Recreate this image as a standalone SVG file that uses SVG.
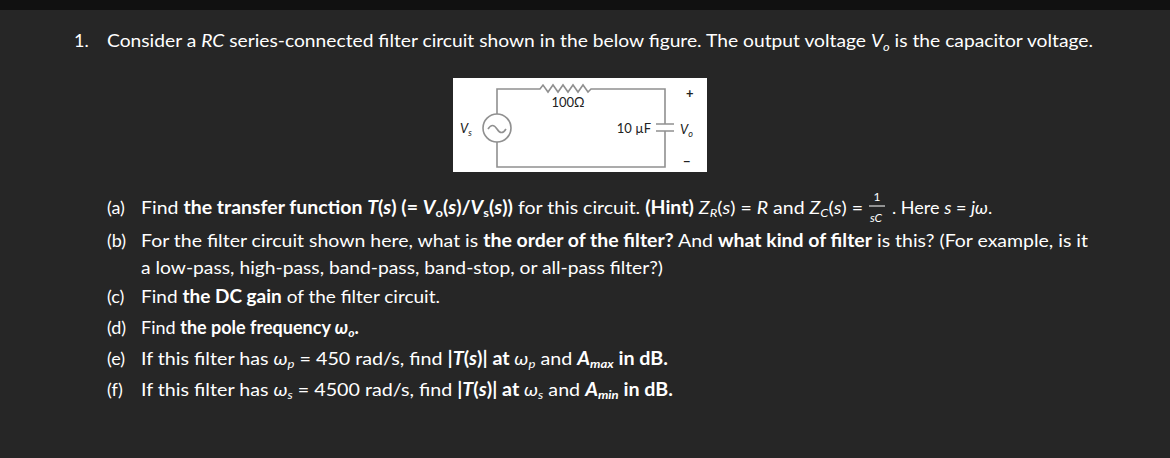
<svg xmlns="http://www.w3.org/2000/svg" width="1170" height="458" viewBox="0 0 1170 458">
<style>
text{font-family:Lato,"Open Sans","Liberation Sans",sans-serif;fill:#ffffff;font-size:18px}
.b{font-weight:bold}.i{font-style:italic}.s{font-size:12px}
.w{stroke:#909090;stroke-width:1.6;fill:none}
.c text{fill:#222;font-size:13px}
</style>
<rect width="1170" height="458" fill="#262626"/>
<rect width="1170" height="10" fill="#111"/>
<g id="question">
<text x="74" y="47">1.</text>
<text x="107" y="47" textLength="986" lengthAdjust="spacingAndGlyphs">Consider a <tspan class="i">RC</tspan> series-connected filter circuit shown in the below figure. The output voltage <tspan class="i">V</tspan><tspan class="s i" dy="4">o</tspan><tspan dy="-4"> is the capacitor voltage.</tspan></text>
</g>
<g id="circuit" class="c">
<rect x="453" y="78" width="254" height="94" fill="#fff"/>
<path class="w" d="M497 114V89H540l3-4 5 7 5-7 5 7 5-7 5 7 5-7 5 7 5-7 5 7 3-3H665V124M656 124H674M656 131H674M665 131V167H497V142"/>
<circle class="w" cx="497" cy="128" r="14"/>
<path class="w" d="M488 129q4.5-7 9 0t9 0"/>
<text x="568" y="107" text-anchor="middle">100Ω</text>
<text x="460" y="133" class="i">V<tspan font-size="9" dy="3">s</tspan></text>
<text x="651" y="133" text-anchor="end">10 µF</text>
<text x="680" y="134" class="i">V<tspan font-size="9" dy="3">o</tspan></text>
<text x="686" y="98" class="b">+</text>
<text x="683" y="166" class="b">−</text>
</g>
<g id="parts">
<text x="107" y="214">(a)</text>
<text x="141" y="214" textLength="722" lengthAdjust="spacingAndGlyphs">Find <tspan class="b">the transfer function <tspan class="i">T</tspan>(<tspan class="i">s</tspan>) (= <tspan class="i">V</tspan><tspan class="s" dy="3">o</tspan><tspan dy="-3">(</tspan><tspan class="i">s</tspan>)/<tspan class="i">V</tspan><tspan class="s" dy="3">s</tspan><tspan dy="-3">(</tspan><tspan class="i">s</tspan>))</tspan> for this circuit. <tspan class="b">(Hint)</tspan> <tspan class="i">Z</tspan><tspan class="s i" dy="3">R</tspan><tspan dy="-3">(</tspan><tspan class="i">s</tspan>) = <tspan class="i">R</tspan> and <tspan class="i">Z</tspan><tspan class="s i" dy="3">C</tspan><tspan dy="-3">(</tspan><tspan class="i">s</tspan>) =</text>
<text x="877" y="201" class="s" text-anchor="middle">1</text>
<line x1="869" y1="206" x2="885" y2="206" stroke="#fff" stroke-width="1"/>
<text x="876" y="222" class="s i" text-anchor="middle">sC</text>
<text x="892" y="214">.  Here <tspan class="i">s</tspan> = <tspan class="i">jω</tspan>.</text>
<text x="107" y="247">(b)</text>
<text x="141" y="247" textLength="947" lengthAdjust="spacingAndGlyphs">For the filter circuit shown here, what is <tspan class="b">the order of the filter?</tspan> And <tspan class="b">what kind of filter</tspan> is this? (For example, is it</text>
<text x="141" y="274" textLength="522" lengthAdjust="spacingAndGlyphs">a low-pass, high-pass, band-pass, band-stop, or all-pass filter?)</text>
<text x="107" y="303">(c)</text>
<text x="141" y="303" textLength="299" lengthAdjust="spacingAndGlyphs">Find <tspan class="b">the DC gain</tspan> of the filter circuit.</text>
<text x="107" y="334">(d)</text>
<text x="141" y="334">Find <tspan class="b">the pole frequency <tspan class="i">ω</tspan><tspan class="s i" dy="3">o</tspan><tspan dy="-3">.</tspan></tspan></text>
<text x="107" y="365">(e)</text>
<text x="141" y="365" textLength="527" lengthAdjust="spacingAndGlyphs">If this filter has <tspan class="i">ω</tspan><tspan class="s i" dy="3">p</tspan><tspan dy="-3"> = 450 rad/s, find </tspan><tspan class="b">|<tspan class="i">T</tspan>(<tspan class="i">s</tspan>)| at </tspan><tspan class="i">ω</tspan><tspan class="s i" dy="3">p</tspan><tspan dy="-3"> and </tspan><tspan class="b i">A</tspan><tspan class="s b i" dy="3">max</tspan><tspan class="b" dy="-3"> in dB.</tspan></text>
<text x="107" y="396">(f)</text>
<text x="141" y="396" textLength="532" lengthAdjust="spacingAndGlyphs">If this filter has <tspan class="i">ω</tspan><tspan class="s i" dy="3">s</tspan><tspan dy="-3"> = 4500 rad/s, find </tspan><tspan class="b">|<tspan class="i">T</tspan>(<tspan class="i">s</tspan>)| at </tspan><tspan class="i">ω</tspan><tspan class="s i" dy="3">s</tspan><tspan dy="-3"> and </tspan><tspan class="b i">A</tspan><tspan class="s b i" dy="3">min</tspan><tspan class="b" dy="-3"> in dB.</tspan></text>
</g>
</svg>
